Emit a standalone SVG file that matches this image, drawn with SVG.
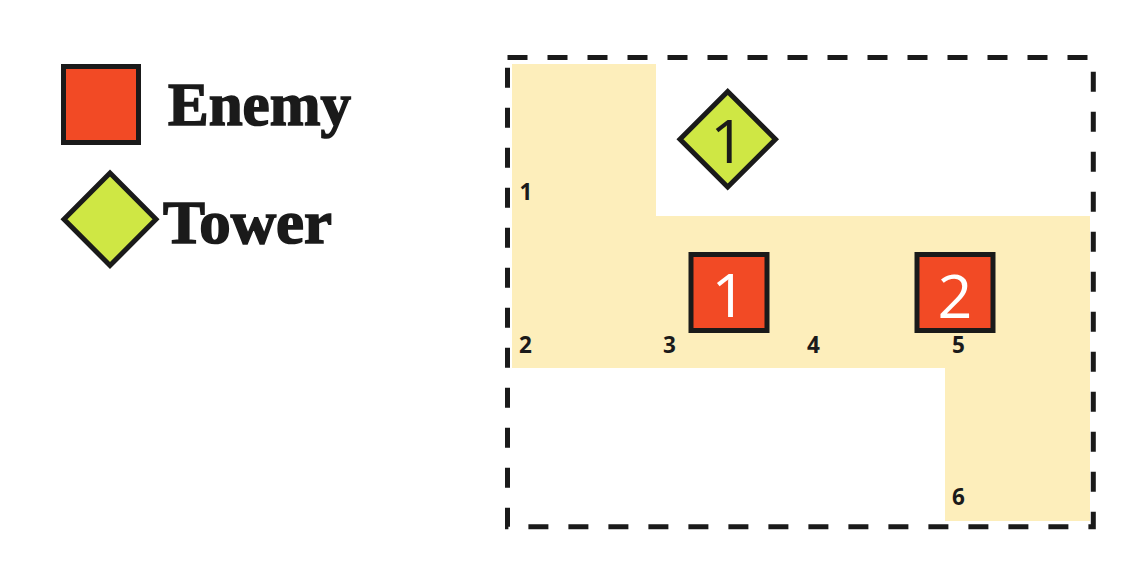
<svg xmlns="http://www.w3.org/2000/svg" width="1122" height="568" viewBox="0 0 1122 568">
<style>
.enemy{fill:#F24A25;stroke:#1A1A1A;stroke-width:5}
.tower{fill:#CFE744;stroke:#1A1A1A;stroke-width:5}
.legend{font-family:"Liberation Serif",serif;font-weight:bold;font-size:62px;fill:#1A1A1A;stroke:#1A1A1A;stroke-width:1.6}
.big{font-family:"Open Sans",sans-serif;font-size:61px;text-anchor:middle}
.idx{font-family:"Open Sans",sans-serif;font-weight:bold;font-size:22.5px;fill:#1A1A1A}
.path{fill:#FDEEBB}
</style>
<rect width="1122" height="568" fill="#FFFFFF"/>
<g id="legend">
<g id="legend-enemy">
<rect class="enemy" x="63.5" y="66.5" width="75" height="76"/>
<text class="legend" x="168" y="125" textLength="183" lengthAdjust="spacingAndGlyphs">Enemy</text>
</g>
<g id="legend-tower">
<polygon class="tower" points="110,173 156,219.3 110,265.5 64,219.3"/>
<text class="legend" x="163" y="243" textLength="169" lengthAdjust="spacingAndGlyphs">Tower</text>
</g>
</g>
<g id="map">
<path class="path" d="M512,64 H656 V216 H1090 V521 H945 V368 H512 Z"/>
<rect x="507.5" y="57.5" width="585.8" height="469.3" fill="none" stroke="#1A1A1A" stroke-width="5" stroke-dasharray="20 20"/>
</g>
<g id="waypoints">
<text class="idx" x="519.5" y="200">1</text>
<text class="idx" x="519" y="353">2</text>
<text class="idx" x="663" y="353">3</text>
<text class="idx" x="807" y="353">4</text>
<text class="idx" x="952" y="353">5</text>
<text class="idx" x="952" y="505">6</text>
</g>
<g id="tower-1">
<polygon class="tower" points="727.7,91.5 775.5,139.3 727.7,187 680,139.3"/>
<text class="big" x="727.7" y="163" fill="#1A1A1A">1</text>
</g>
<g id="enemy-1">
<rect class="enemy" x="691" y="254.5" width="76" height="76"/>
<text class="big" x="729" y="317" fill="#FFFFFF">1</text>
</g>
<g id="enemy-2">
<rect class="enemy" x="917" y="254.5" width="76" height="76"/>
<text class="big" x="955" y="318" fill="#FFFFFF">2</text>
</g>
<g id="connectors"/>
</svg>
